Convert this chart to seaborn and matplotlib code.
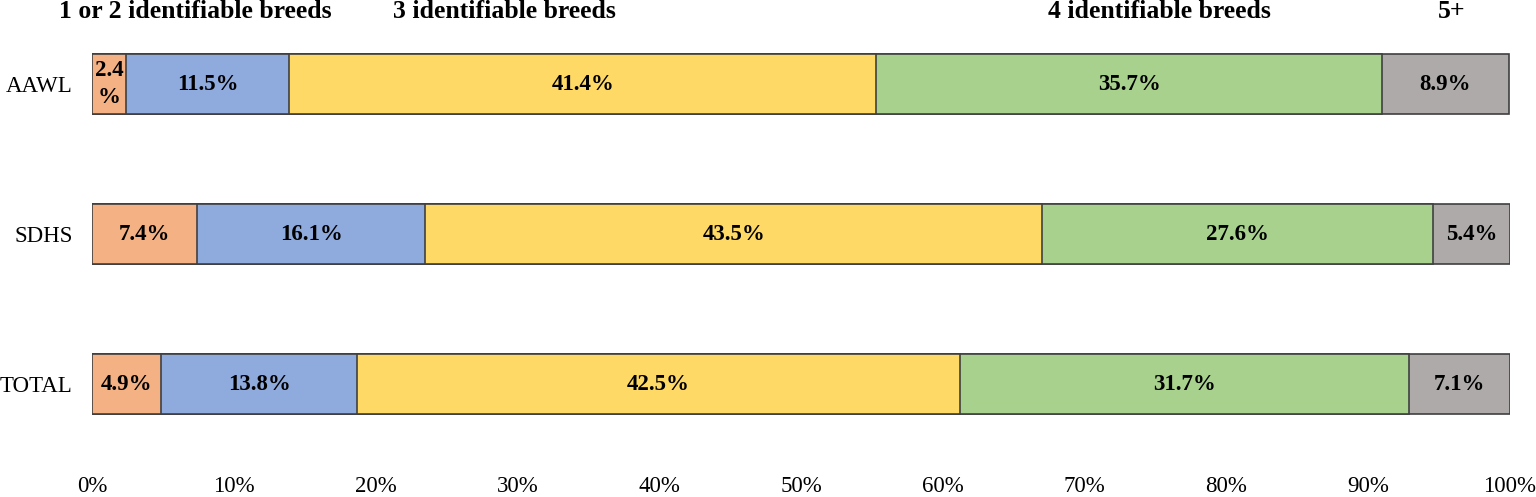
import numpy as np
import pandas as pd
import seaborn as sns
import matplotlib.pyplot as plt

groups = ["AAWL", "SDHS", "TOTAL"]
segments = ["1", "2", "3", "4", "5+"]
seg_colors = ["#F4B183", "#8FAADC", "#FFD966", "#A9D18E", "#AEAAAA"]

one_breed = [2.4, 7.4, 4.9]
two_breeds = [11.5, 16.1, 13.8]
three_breeds = [41.4, 43.5, 42.5]
four_breeds = [35.7, 27.6, 31.7]
five_plus = [8.9, 5.4, 7.1]

headers = ["1 or 2 identifiable breeds", "3 identifiable breeds",
           "4 identifiable breeds", "5+"]
header_x = [7.3, 29.1, 75.3, 95.9]

sns.set_theme(style="white")
plt.rcParams["font.family"] = ["Liberation Serif", "DejaVu Serif"]
plt.rcParams["text.color"] = "black"
plt.rcParams["xtick.color"] = "black"
plt.rcParams["ytick.color"] = "black"

values = np.array([one_breed, two_breeds, three_breeds, four_breeds, five_plus])
cum = values.cumsum(axis=0)

fig = plt.figure(figsize=(15.36, 4.97), dpi=100)
ax = fig.add_axes([92 / 1536, 38 / 497, (1510 - 92) / 1536, 450 / 497])

# draw from the widest cumulative bar down so the segments stack
for i in range(len(segments) - 1, -1, -1):
    df = pd.DataFrame({"group": groups, "value": cum[i]})
    sns.barplot(data=df, x="value", y="group", order=groups, orient="h",
                color=seg_colors[i], edgecolor="#404040", linewidth=1.2,
                width=0.4, errorbar=None, saturation=1, ax=ax)

for i in range(len(segments)):
    for j, g in enumerate(groups):
        v = values[i, j]
        left = cum[i, j] - v
        txt = f"{v:.1f}%"
        if v < 3:
            txt = f"{v:.1f}\n%"
        ax.text(left + v / 2, j, txt, ha="center", va="center",
                fontsize=16.5, fontweight="bold", color="black",
                linespacing=1.35)

ax.set_xlim(0, 100)
ax.set_ylim(2.5, -0.5)
ax.set_xticks(np.arange(0, 101, 10))
ax.set_xticklabels([f"{t}%" for t in range(0, 101, 10)])
ax.set_xlabel("")
ax.set_ylabel("")
ax.tick_params(axis="x", length=0, pad=12, labelsize=16.5)
ax.tick_params(axis="y", length=0, pad=14, labelsize=16.5)
sns.despine(ax=ax, left=True, bottom=True)

for h, hx in zip(headers, header_x):
    fig.text((92 + hx * 14.18) / 1536, 1 - 12 / 497, h, ha="center",
             va="center", fontsize=18.5, fontweight="bold")

fig.savefig("out.png", dpi=100)
